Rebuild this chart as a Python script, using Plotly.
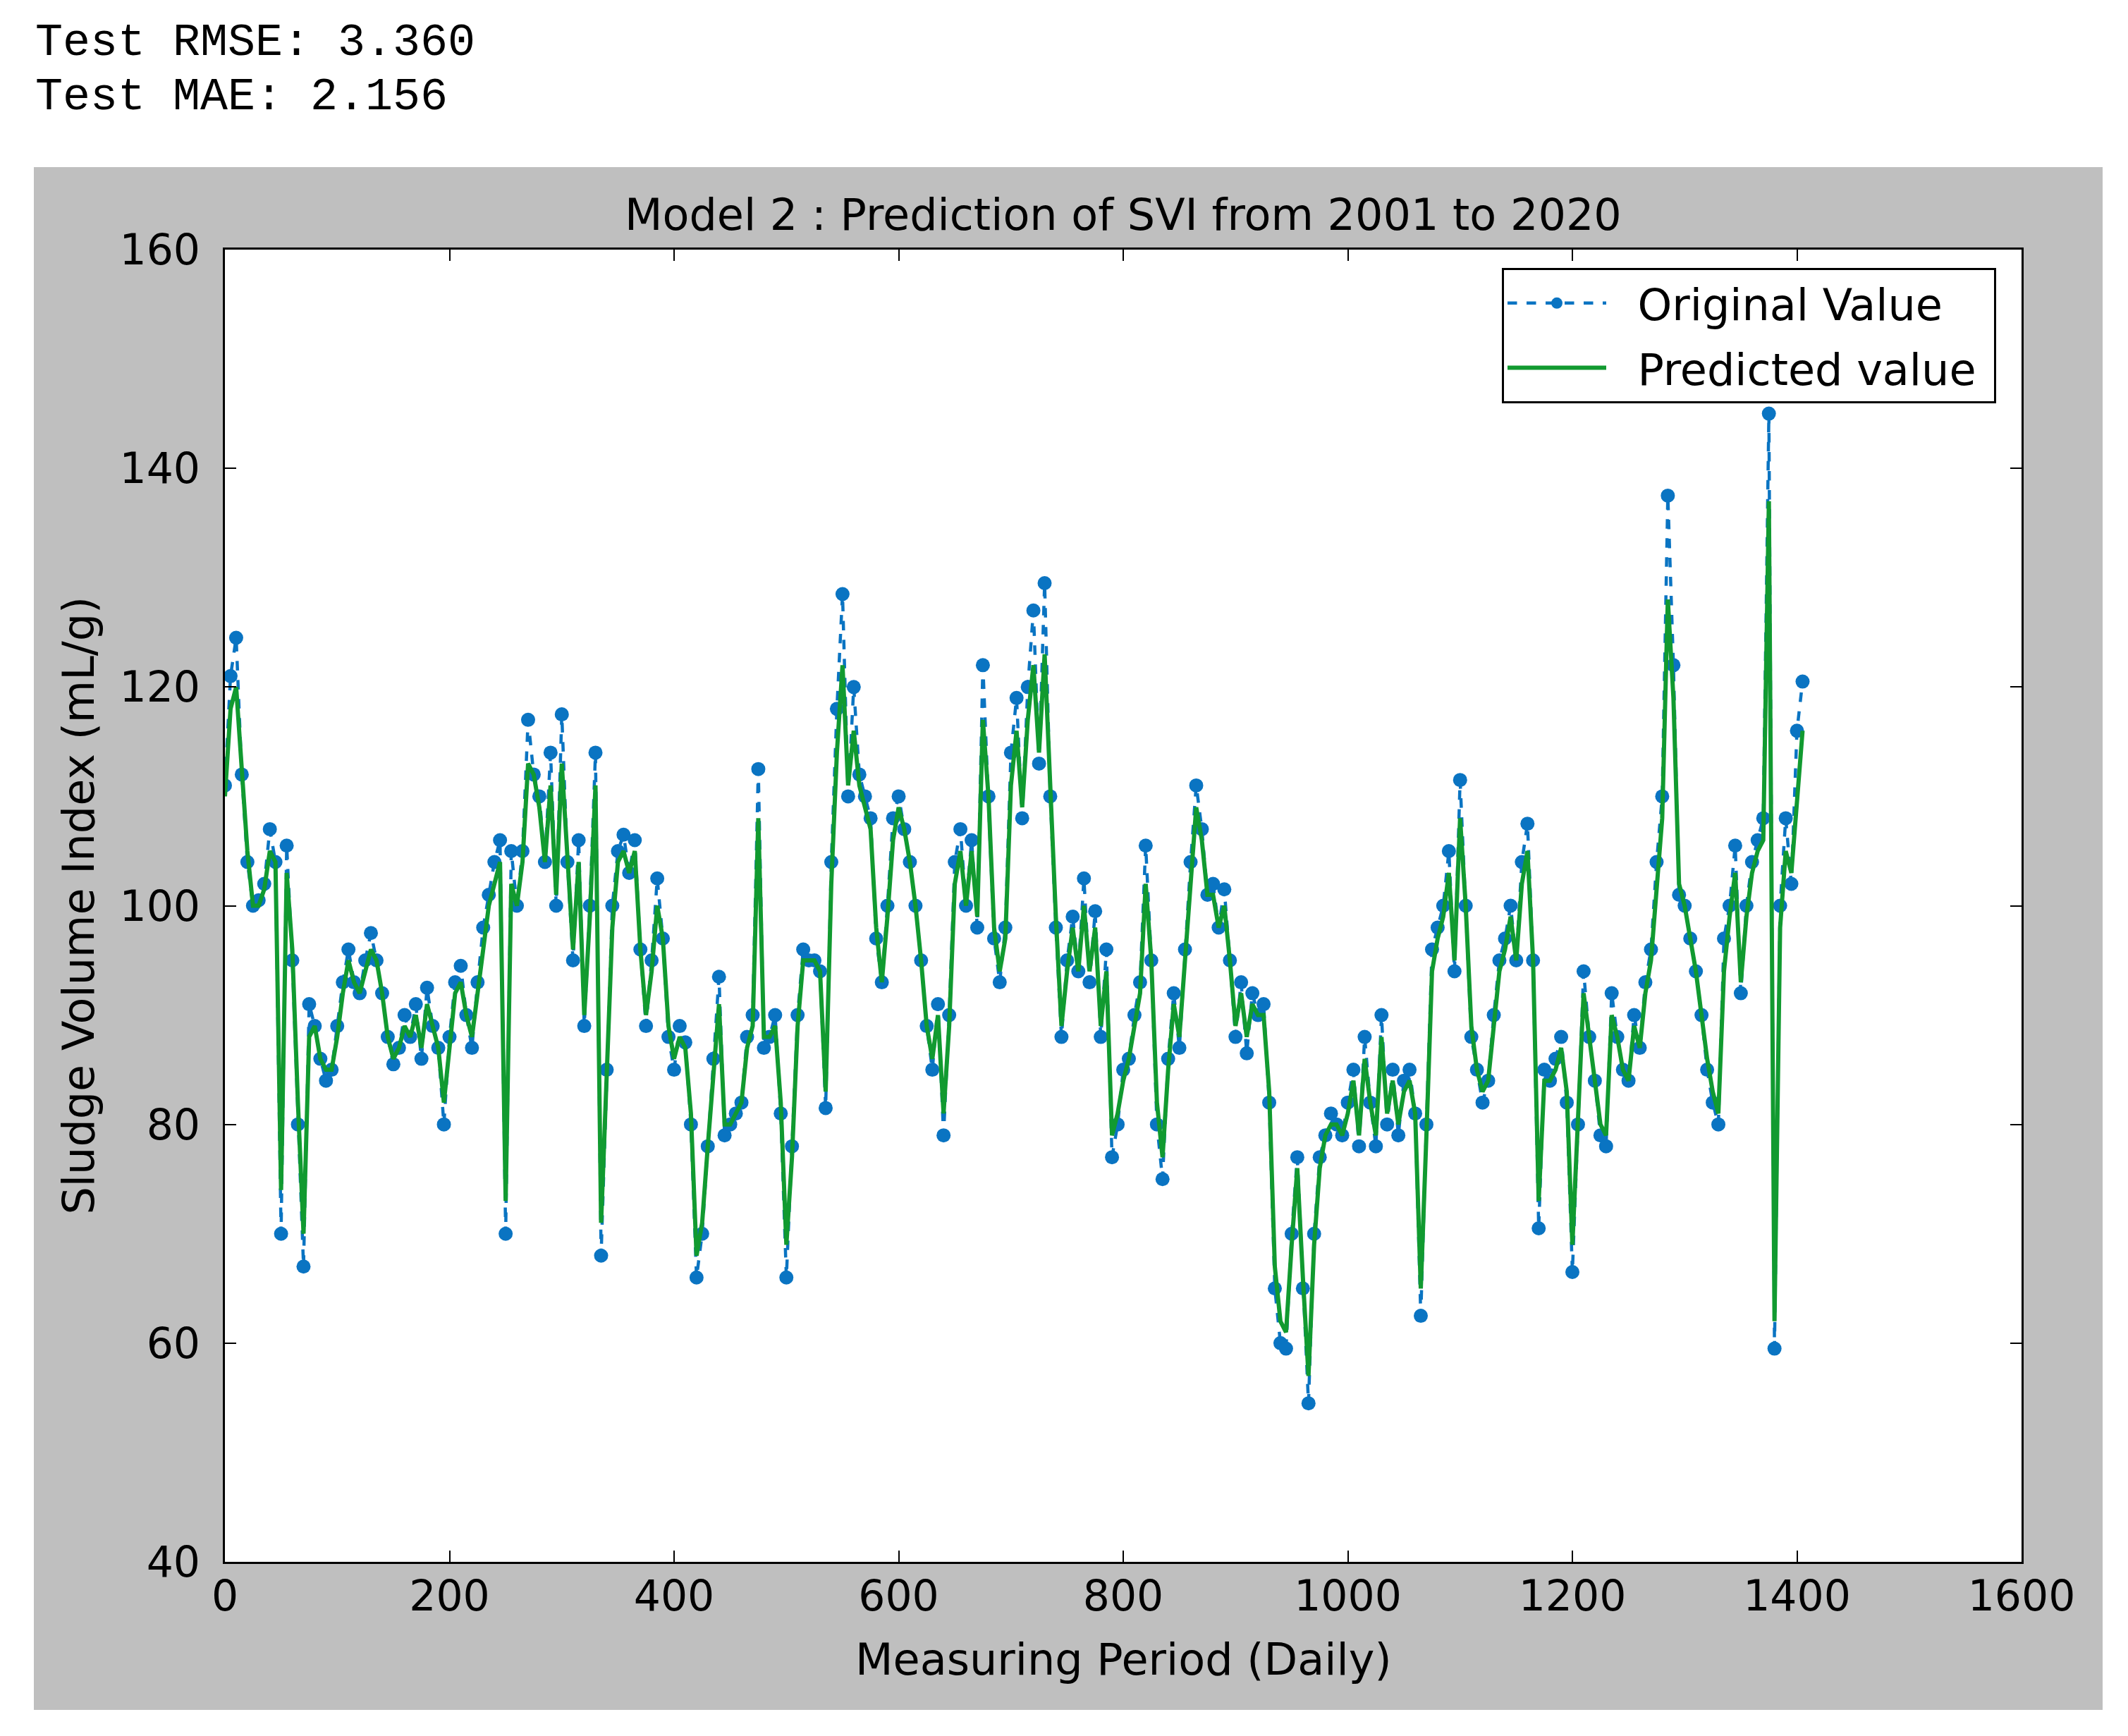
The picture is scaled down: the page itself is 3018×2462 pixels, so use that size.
import plotly.graph_objects as go

# ---------------- data (every 5th day) ----------------
days = list(range(0, 1406, 5))

original = [
    111, 121, 124.5, 112, 104, 100, 100.5, 102, 107, 104,
    70, 105.5, 95, 80, 67, 91, 89, 86, 84, 85,
    89, 93, 96, 93, 92, 95, 97.5, 95, 92, 88,
    85.5, 87, 90, 88, 91, 86, 92.5, 89, 87, 80,
    88, 93, 94.5, 90, 87, 93, 98, 101, 104, 106,
    70, 105, 100, 105, 117, 112, 110, 104, 114, 100,
    117.5, 104, 95, 106, 89, 100, 114, 68, 85, 100,
    105, 106.5, 103, 106, 96, 89, 95, 102.5, 97, 88,
    85, 89, 87.5, 80, 66, 70, 78, 86, 93.5, 79,
    80, 81, 82, 88, 90, 112.5, 87, 88, 90, 81,
    66, 78, 90, 96, 95, 95, 94, 81.5, 104, 118,
    128.5, 110, 120, 112, 110, 108, 97, 93, 100, 108,
    110, 107, 104, 100, 95, 89, 85, 91, 79, 90,
    104, 107, 100, 106, 98, 122, 110, 97, 93, 98,
    114, 119, 108, 120, 127, 113, 129.5, 110, 98, 88,
    95, 99, 94, 102.5, 93, 99.5, 88, 96, 77, 80,
    85, 86, 90, 93, 105.5, 95, 80, 75, 86, 92,
    87, 96, 104, 111, 107, 101, 102, 98, 101.5, 95,
    88, 93, 86.5, 92, 90, 91, 82, 65, 60, 59.5,
    70, 77, 65, 54.5, 70, 77, 79, 81, 80, 79,
    82, 85, 78, 88, 82, 78, 90, 80, 85, 79,
    84, 85, 81, 62.5, 80, 96, 98, 100, 105, 94,
    111.5, 100, 88, 85, 82, 84, 90, 95, 97, 100,
    95, 104, 107.5, 95, 70.5, 85, 84, 86, 88, 82,
    66.5, 80, 94, 88, 84, 79, 78, 92, 88, 85,
    84, 90, 87, 93, 96, 104, 110, 137.5, 122, 101,
    100, 97, 94, 90, 85, 82, 80, 97, 100, 105.5,
    92, 100, 104, 106, 108, 145, 59.5, 100, 108, 102,
    116, 120.5,
]

predicted = [
    110, 118, 120, 113, 105, 100, 100, 101.5, 105, 104,
    74, 103, 96, 82, 70, 88, 89, 86, 85, 85,
    88, 92, 95, 93, 92, 94, 96, 95, 92, 88,
    86, 87, 89, 88, 90, 87, 91, 89, 87, 82,
    87, 92, 93, 90, 88, 92, 96, 100, 102, 104,
    73, 102, 100, 104, 113, 112, 109, 104, 111, 101,
    113, 104, 96, 104, 90, 99, 111, 71, 84, 98,
    104, 105, 103, 105, 96, 90, 94, 100, 97, 89,
    86, 88, 87, 81, 68, 71, 78, 85, 91, 80,
    80, 81, 82, 87, 89, 108, 88, 88, 89, 82,
    69, 77, 89, 95, 95, 95, 94, 83, 102, 114,
    122, 111, 116, 111, 109, 107, 98, 93, 99, 106,
    109, 107, 104, 100, 95, 89, 86, 90, 81, 89,
    102, 105, 100, 105, 99, 117, 110, 98, 94, 97,
    111, 116, 109, 117, 122, 114, 123, 110, 99, 89,
    94, 98, 94, 100, 94, 98, 89, 94, 79, 81,
    84, 86, 89, 92, 102, 95, 82, 77, 85, 91,
    88, 95, 102, 109, 106, 101, 101, 98, 100, 95,
    89, 92, 88, 91, 90, 90, 83, 67, 62, 61,
    69, 76, 66, 57, 69, 76, 79, 80, 80, 79,
    81, 84, 79, 86, 82, 79, 88, 81, 84, 80,
    83, 84, 81, 65, 79, 94, 97, 99, 103, 95,
    108, 100, 89, 85, 83, 84, 89, 94, 96, 99,
    95, 102, 105, 95, 73, 84, 84, 85, 87, 83,
    69, 80, 92, 88, 84, 80, 79, 90, 88, 85,
    84, 89, 87, 92, 95, 102, 108, 128, 119, 102,
    100, 97, 94, 90, 86, 83, 81, 94, 99, 103,
    93, 99, 103, 105, 106, 137, 62, 98, 105, 103,
    110, 116,
]

x_ticks = [0, 200, 400, 600, 800, 1000, 1200, 1400, 1600]
y_ticks = [40, 60, 80, 100, 120, 140, 160]

title_text = "Model 2 : Prediction of SVI from 2001 to 2020"
x_label = "Measuring Period (Daily)"
y_label = "Sludge Volume Index (mL/g)"
metrics = ["Test RMSE: 3.360", "Test MAE: 2.156"]
series_names = ["Original Value", "Predicted value"]

# ---------------- styling ----------------
W, H = 3018, 2462
PL, PR, PT, PB = 311, 2859, 346, 2207          # plot area in pixels
L, R, T, B = PL, W - PR, PT, H - PB
PW, PH = PR - PL, PB - PT
BLUE = "#0a74c2"
GREEN = "#119a30"
GRAY = "#bfbfbf"
FONT = "DejaVu Sans"
NB = "\u00a0"


def px_x(p):
    return (p - PL) / PW


def px_y(p):
    return (PB - p) / PH


fig = go.Figure()
fig.add_trace(go.Scatter(
    x=days, y=original, name=NB * 2 + series_names[0] + NB,
    mode="lines+markers", legendgroup="orig",
    line=dict(color=BLUE, width=4.5, dash="dash"),
    marker=dict(color=BLUE, size=20, line=dict(width=0)),
))
fig.add_trace(go.Scatter(
    x=days, y=predicted, name=NB * 2 + series_names[1] + NB,
    mode="lines", legendgroup="pred",
    line=dict(color=GREEN, width=6),
))

axis_common = dict(
    showgrid=False, zeroline=False, showline=True, linecolor="black",
    linewidth=3, mirror="allticks", ticks="inside", ticklen=16,
    tickwidth=2, tickcolor="black",
    tickfont=dict(family=FONT, size=60, color="black"),
)
fig.update_xaxes(range=[0, 1600], tickvals=x_ticks, ticklabelstandoff=-6,
                 **axis_common)
fig.update_yaxes(range=[40, 160], tickvals=y_ticks, ticklabelstandoff=20,
                 **axis_common)

# white margins around the grey panel
panel = (40, 229, 2974, 2417)
white_strips = [
    (0, 0, W, panel[1]), (0, 0, panel[0], H),
    (panel[2], 0, W, H), (0, panel[3], W, H),
]
shapes = []
for x0, y0, x1, y1 in white_strips:
    shapes.append(dict(type="rect", xref="paper", yref="paper",
                       x0=px_x(x0), x1=px_x(x1), y0=px_y(y1), y1=px_y(y0),
                       fillcolor="white", line=dict(width=0), layer="below"))

annotations = [
    dict(text=title_text, x=0.5, y=px_y(296), xref="paper", yref="paper",
         xanchor="center", yanchor="middle", showarrow=False,
         font=dict(family=FONT, size=62, color="black")),
    dict(text=x_label, x=0.5, y=px_y(2345), xref="paper", yref="paper",
         xanchor="center", yanchor="middle", showarrow=False,
         font=dict(family=FONT, size=62, color="black")),
    dict(text=y_label, x=px_x(103), y=0.5, xref="paper", yref="paper",
         xanchor="center", yanchor="middle", showarrow=False, textangle=-90,
         font=dict(family=FONT, size=62, color="black")),
]
for txt, yc in zip(metrics, [53, 130]):
    annotations.append(dict(
        text=txt, x=px_x(40), y=px_y(yc), xref="paper", yref="paper",
        xanchor="left", yanchor="middle", showarrow=False,
        font=dict(family="Liberation Mono", size=65, color="black")))

fig.update_layout(
    width=W, height=H,
    margin=dict(l=L, r=R, t=T, b=B, pad=0),
    paper_bgcolor=GRAY, plot_bgcolor="white",
    shapes=shapes, annotations=annotations,
    showlegend=True,
    legend=dict(
        x=px_x(2122), y=px_y(372), xanchor="left", yanchor="top",
        bgcolor="white", bordercolor="black", borderwidth=3,
        font=dict(family=FONT, size=62, color="black"),
        itemwidth=140, tracegroupgap=8,
    ),
    font=dict(family=FONT, color="black"),
)

fig.write_html("out.html")
